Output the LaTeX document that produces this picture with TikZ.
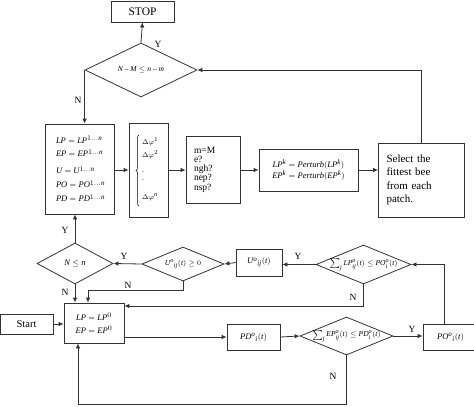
\documentclass[tikz,border=0pt]{standalone}
\usepackage{fontspec}
\setmainfont{Liberation Serif}
\usepackage[italic]{mathastext}
\usetikzlibrary{shapes.geometric,arrows.meta,decorations.pathreplacing}
\begin{document}
\begin{tikzpicture}[x=1pt,y=-1pt,
  box/.style={draw=black!80, line width=0.8pt, rectangle, inner sep=0pt, align=center},
  dia/.style={draw=black!80, line width=0.8pt, diamond, inner sep=0pt},
  arr/.style={-{Latex[length=5pt,width=4.5pt]}, line width=0.8pt, draw=black!80},
  lbl/.style={font=\fontsize{9.5}{10}\selectfont, inner sep=0pt},
  eq/.style={font=\fontsize{8.5}{9}\selectfont},
  seq/.style={font=\fontsize{7.5}{8}\selectfont, inner sep=0pt},
  dph/.style={font=\fontsize{7.5}{8}\selectfont, inner sep=0pt, anchor=west}
]
\useasboundingbox (0,0) rectangle (474,407);
% nodes
\node[box, minimum width=63pt, minimum height=21pt, font=\fontsize{11.5}{12}\selectfont] (stop) at (142.5,11.5) {STOP};
\node[dia, minimum width=112pt, minimum height=54pt] (d1) at (141,70) {};
\node[seq] (d1t) at (d1) {$N-M\le n-m$};
\node[box, minimum width=69pt, minimum height=90pt, text width=53pt, inner xsep=8pt, align=left, eq] (big) at (79.5,169)
  {\hspace*{3pt}$LP=LP^{1\ldots n}$\\[4.5pt] \hspace*{3pt}$EP=EP^{1\ldots n}$\\[8pt] \hspace*{3pt}$U=U^{1\ldots n}$\\[5pt] \hspace*{3pt}$PO=PO^{1\ldots n}$\\[5pt] \hspace*{3pt}$PD=PD^{1\ldots n}$};
\node[box, minimum width=39pt, minimum height=94pt] (delta) at (148.5,170) {};
\coordinate (brb) at (139,206);
\coordinate (brt) at (139,135);
\draw[line width=0.5pt, decorate, decoration={brace, amplitude=3pt}] (brb) -- (brt);
\node[dph] (p1) at (142,142) {$\Delta\varphi^1$};
\node[dph] (p2) at (142,155) {$\Delta\varphi^2$};
\node[dph] (p3) at (142,172) {.};
\node[dph] (p4) at (142,180) {.};
\node[dph] (p5) at (142,197) {$\Delta\varphi^n$};
\node[box, minimum width=54pt, minimum height=67pt, text width=38pt, align=left, font=\fontsize{9.5}{9.3}\selectfont] (mm) at (213,169.5)
  {m=M\\ e?\\ ngh?\\ nep?\\ nsp?\\[4pt]};
\node[box, minimum width=99pt, minimum height=42pt, eq] (pert) at (308.5,170)
  {$LP^k=Perturb(LP^k)$\\[1pt] $EP^k=Perturb(EP^k)$};
\node[box, minimum width=85pt, minimum height=74pt, text width=70pt, inner xsep=8pt, align=left, font=\fontsize{11}{13.5}\selectfont] (sel) at (421.5,180)
  {Select the\\ fittest bee\\ from each\\ patch.};
\node[dia, minimum width=76pt, minimum height=41pt] (d2) at (75,263.5) {};
\node[eq, inner sep=0pt] (d2t) at (d2) {$N\le n$};
\node[dia, minimum width=82pt, minimum height=34pt] (d3) at (183,264) {};
\node[seq] (d3t) at (d3) {$U^{o}{}_{ij}(t)\ge 0$};
\node[box, minimum width=46pt, minimum height=27pt, eq] (ubox) at (259,262.5) {$U^{o}{}_{ij}(t)$};
\node[dia, minimum width=95pt, minimum height=39pt] (d4) at (363.5,264.5) {};
\node[seq] (d4t) at (d4) {$\sum_j LP^o_{ij}(t)\le PO^o_i(t)$};
\node[box, minimum width=60pt, minimum height=40pt, eq] (lp0) at (94,323) {$LP=LP^0$\\[4pt] $EP=EP^0$};
\node[box, minimum width=53pt, minimum height=20pt, font=\fontsize{10.5}{12}\selectfont] (start) at (26.5,324) {Start};
\node[box, minimum width=53pt, minimum height=26pt, eq] (pd) at (253.5,337) {$PD^{o}{}_{i}(t)$};
\node[dia, minimum width=93pt, minimum height=38pt] (d5) at (346.5,336) {};
\node[seq] (d5t) at (d5) {$\sum_j EP^o_{ij}(t)\le PD^o_i(t)$};
\node[box, minimum width=55pt, minimum height=26pt, eq] (po) at (450.5,337) {$PO^{o}{}_{i}(t)$};
% connectors
\draw[arr] (d1.north) -- (stop.south);
\node[lbl] (y1) at (158,44) {Y};
\draw[arr] (d1.west) -- (d1.west |- big.north);
\node[lbl] (n1) at (78,100) {N};
\draw[arr] (big.east |- delta.west) -- (delta.west);
\draw[arr] (delta.east) -- (delta.east -| mm.west);
\draw[arr] (mm.east |- pert.west) -- (pert.west);
\draw[arr] (pert.east) -- (pert.east -| sel.west);
\draw[arr] (sel.north) |- (d1.east);
\draw[arr] (d2.north) -- (d2.north |- big.south);
\node[lbl] (y2) at (65,230) {Y};
\draw[arr] (d3.west) -- (d2.east);
\node[lbl] (y3) at (124,256) {Y};
\draw[arr] (ubox.west) -- (d3.east);
\draw[arr] (d4.west) -- (d4.west -| ubox.east);
\node[lbl] (y4) at (298,256) {Y};
\draw[arr] (d2.south) -- (d2.south |- lp0.north);
\node[lbl] (n2) at (65,292) {N};
\draw[arr] (d3.south) -- ++(0,9) -| ([xshift=-6pt]lp0.north);
\node[lbl] (n3) at (128,285) {N};
\draw[arr] (d4.south) |- ([yshift=17pt]lp0.east);
\node[lbl] (n4) at (353,297) {N};
\draw[arr] (start.east) -- (start.east -| lp0.west);
\draw[arr] (pd.west -| lp0.east) -- (pd.west);
\draw[arr] (pd.east) -- (d5.west);
\draw[arr] (d5.east) -- (d5.east -| po.west);
\node[lbl] (y5) at (412,329) {Y};
\draw[arr] ([xshift=-6.5pt]po.north) |- (d4.east);
\draw[arr] (d5.south) -- ++(0,49) -| ([xshift=-16pt]lp0.south);
\node[lbl] (n5) at (333,376) {N};
\end{tikzpicture}
\end{document}
